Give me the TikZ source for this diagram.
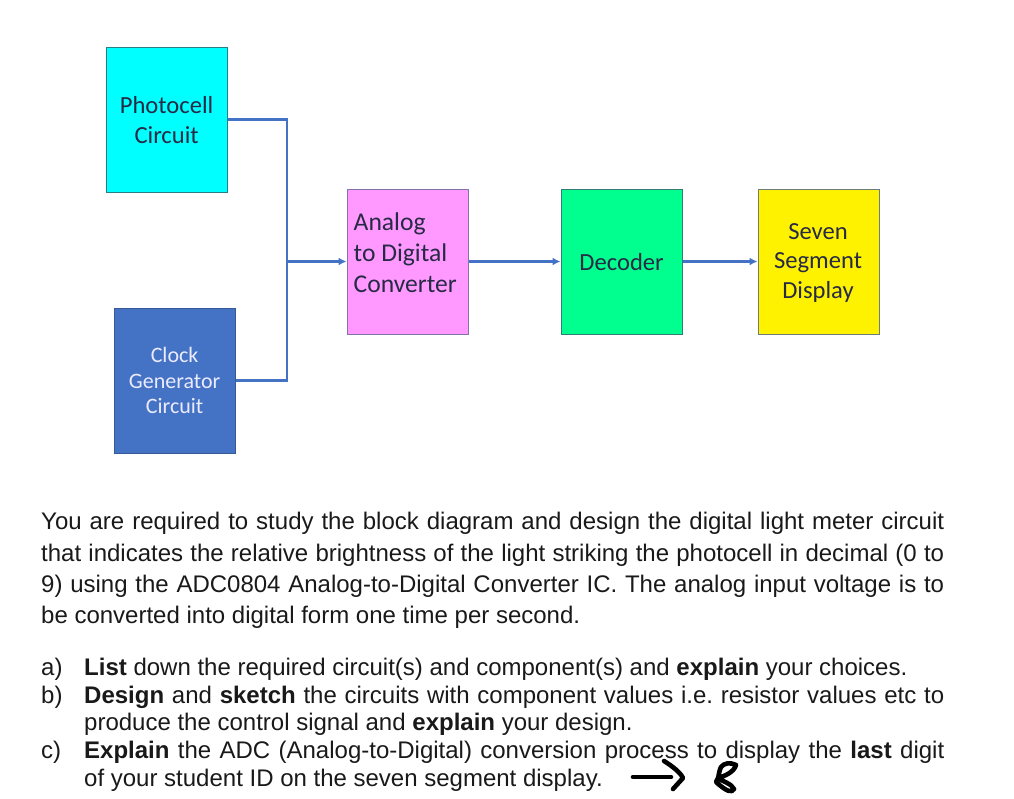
\documentclass[tikz,border=0pt]{standalone}
\usepackage{fontspec}
\setmainfont{Liberation Sans}
\newfontfamily\cali{Carlito}
\usetikzlibrary{arrows.meta}
\definecolor{wire}{HTML}{4472C4}
\definecolor{inktext}{HTML}{262A45}
\newcommand{\jline}[2]{\makebox[#1pt][s]{\frenchspacing #2}}
\begin{document}
\begin{tikzpicture}[x=1pt,y=-1pt,
  block/.style={line width=1.2pt,minimum width=121pt,minimum height=145pt,inner sep=0pt,anchor=north west,font=\cali\fontsize{24.6}{30}\selectfont,align=center,text=inktext},
  wireln/.style={draw=wire,line width=2.6pt},
  arrowln/.style={draw=wire,line width=2.2pt,-{Latex[length=8pt,width=8pt]}},
  para/.style={anchor=base west,inner sep=0pt,font=\fontsize{24}{28}\selectfont,text=black!90},
  scrib/.style={draw=black,line width=4.6pt,line cap=round,line join=round}]
\useasboundingbox (0,0) rectangle (1014,798);
\node[block,draw={rgb,255:red,40;green,125;blue,135},fill={rgb,255:red,0;green,255;blue,255}] (photo) at (105.5,46.5) {Photocell\\Circuit};
\node[block,draw={rgb,255:red,55;green,90;blue,150},fill=wire,text=white!92!blue,font=\cali\fontsize{22}{25.6}\selectfont] (clock) at (113.5,307.5) {Clock\\Generator\\Circuit};
\node[block,draw={rgb,255:red,130;green,115;blue,170},fill={rgb,255:red,255;green,153;blue,255}] (adc) at (346.5,188.5) {};
\node[anchor=north west,inner sep=0pt,font=\cali\fontsize{25.6}{31}\selectfont,align=left,text=inktext] (adct) at (353.5,213) {Analog\\to Digital\\Converter};
\node[block,draw={rgb,255:red,50;green,125;blue,115},fill={rgb,255:red,0;green,255;blue,142}] (dec) at (560.5,188.5) {Decoder};
\node[block,draw={rgb,255:red,110;green,125;blue,120},fill=yellow] (seg) at (757.5,188.5) {};
\node[inner sep=0pt,font=\cali\fontsize{24.6}{29.5}\selectfont,align=center,text=inktext] (segt) at (818,262.5) {Seven\\Segment\\Display};
\coordinate (jtop) at (287,119.5);
\coordinate (jbot) at (287,380.5);
\coordinate (jmid) at (287,261.5);
\draw[wireln] (photo.east |- jtop) -- (jtop) -- (jbot) -- (clock.east |- jbot);
\draw[arrowln] (jmid) -- (adc.west |- jmid);
\draw[arrowln] (adc.east |- jmid) -- (dec.west |- jmid);
\draw[arrowln] (dec.east |- jmid) -- (seg.west |- jmid);
\node[para] (p1) at (41,529) {\jline{903}{You are required to study the block diagram and design the digital light meter circuit}};
\node[para] (p2) at (41,561) {\jline{903}{that indicates the relative brightness of the light striking the photocell in decimal (0 to}};
\node[para] (p3) at (41,592) {\jline{903}{9) using the ADC0804 Analog-to-Digital Converter IC. The analog input voltage is to}};
\node[para] (p4) at (41,623) {be converted into digital form one time per second.};
\node[para] (la) at (41,675) {a)};
\node[para] (a1) at (84,675) {\textbf{List} down the required circuit(s) and component(s) and \textbf{explain} your choices.};
\node[para] (lb) at (41,703) {b)};
\node[para] (b1) at (84,703) {\jline{860}{\textbf{Design} and \textbf{sketch} the circuits with component values i.e. resistor values etc to}};
\node[para] (b2) at (84,730) {produce the control signal and \textbf{explain} your design.};
\node[para] (lc) at (41,758) {c)};
\node[para] (c1) at (84,758) {\jline{860}{\textbf{Explain} the ADC (Analog-to-Digital) conversion process to display the \textbf{last} digit}};
\node[para] (c2) at (84,786) {of your student ID on the seven segment display.};
\draw[scrib] (633,777) -- (671,777);
\draw[scrib] (664,761) .. controls (672,766) and (680,772) .. (683,778) -- (673,789);
\draw[scrib] (736,765) .. controls (730,762) and (724,763) .. (721,767) .. controls (719,771) and (719,775) .. (718,778) .. controls (722,781) and (732,784) .. (734,789) .. controls (732,793) and (727,792) .. (716,782) -- (718,778) .. controls (725,776) and (734,772) .. (736,765);
\end{tikzpicture}
\end{document}
